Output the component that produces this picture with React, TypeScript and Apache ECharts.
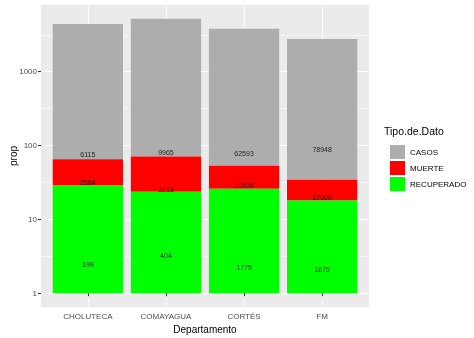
import React, { useEffect, useRef } from "react";
import * as echarts from "echarts";

const categories = ["CHOLUTECA", "COMAYAGUA", "CORTÉS", "FM"];
// prop values (percent) per tipo, stacked on a log10 scale (ggplot-style)
const recuperadoProp = [29.2, 23.7, 26.0, 18.1];
const muerteProp = [2.24, 3.0, 2.05, 1.9];
const casosProp = [67.5, 73.3, 71.6, 80.5];
// text labels (counts) and the prop value at which each label sits
const casosCount = [6115, 9965, 62593, 78948];
const muerteCount = [2564, 3213, 22606, 17900];
const recuperadoCount = [199, 404, 1775, 1875];
const casosLabelAt = [75, 80.4, 78, 87.5];
const muerteLabelAt = [31.3, 25.4, 28.5, 19.8];
const recuperadoLabelAt = [2.42, 3.23, 2.22, 2.07];
const yTickLabels = [1, 10, 100, 1000];
const yMinorBreaks = [3.16, 31.6, 316, 3162];

const FONT = "Liberation Sans, Arial, sans-serif";

export default function App() {
  const ref = useRef<HTMLDivElement>(null);
  useEffect(() => {
    if (!ref.current) return;
    const chart = echarts.init(ref.current, null, { renderer: "svg" });
    const lg = (v: number) => Math.log10(v);
    const xs = categories.map((_, i) => i + 1);
    // cumulative tops in log space (stacking of log10 values)
    const topRec = recuperadoProp.map((v) => lg(v));
    const topMue = muerteProp.map((v, i) => topRec[i] + lg(v));
    const topCas = casosProp.map((v, i) => topMue[i] + lg(v));
    const maxT = Math.max(...topCas);
    const yMin = -0.05 * maxT;
    const yMax = maxT * 1.05;
    const majors = yTickLabels.map(lg);
    const minors = yMinorBreaks.map(lg);

    const barSeries = (name: string, bottoms: number[], tops: number[], color: string) => ({
      type: "custom",
      name,
      itemStyle: { color },
      encode: { x: 0, y: [1, 2] },
      data: tops.map((t, i) => [xs[i], bottoms[i], t]),
      z: 2,
      renderItem: (_p: any, api: any) => {
        const x = api.value(0);
        const p0 = api.coord([x, api.value(1)]);
        const p1 = api.coord([x, api.value(2)]);
        const w = api.size([0.9, 0])[0];
        return {
          type: "rect",
          shape: { x: p0[0] - w / 2, y: p1[1], width: w, height: p0[1] - p1[1] },
          style: { fill: color },
        };
      },
    });
    const labelSeries = (at: number[], counts: number[]) => ({
      type: "scatter",
      name: "lbl",
      symbolSize: 1,
      itemStyle: { color: "transparent" },
      z: 6,
      data: at.map((v, i) => ({ value: [xs[i], lg(v)], txt: String(counts[i]) })),
      label: {
        show: true,
        position: "inside",
        formatter: (p: any) => p.data.txt,
        fontSize: 7,
        color: "#000",
        fontFamily: FONT,
      },
    });

    chart.setOption({
      animation: false,
      grid: {
        left: 41,
        top: 5,
        width: 328,
        height: 302,
        containLabel: false,
        outerBoundsMode: "none",
        show: true,
        backgroundColor: "#EBEBEB",
        borderWidth: 0,
      },
      xAxis: {
        type: "value",
        min: 0.4,
        max: 4.6,
        name: "Departamento",
        nameLocation: "middle",
        nameGap: 13,
        nameTextStyle: { fontSize: 10, color: "#000", fontFamily: FONT },
        axisLine: { show: false },
        axisTick: {
          show: true,
          customValues: xs,
          length: 3,
          lineStyle: { color: "#333", width: 1 },
        },
        axisLabel: {
          customValues: xs,
          formatter: (v: number) => categories[Math.round(v) - 1] ?? "",
          fontSize: 8,
          color: "#4D4D4D",
          margin: 5,
          fontFamily: FONT,
        },
        splitLine: { show: true, lineStyle: { color: "#fff", width: 1.1 } },
      },
      yAxis: [
        {
          type: "value",
          min: yMin,
          max: yMax,
          axisLine: { show: false },
          axisTick: {
            show: true,
            customValues: majors,
            length: 3,
            lineStyle: { color: "#333", width: 1 },
          },
          axisLabel: {
            customValues: majors,
            formatter: (v: number) => String(Math.round(Math.pow(10, v))),
            fontSize: 8,
            color: "#4D4D4D",
            margin: 4,
            fontFamily: FONT,
          },
          splitLine: { show: true, lineStyle: { color: "#fff", width: 1.1 } },
        },
        {
          type: "value",
          min: yMin,
          max: yMax,
          position: "left",
          axisLine: { show: false },
          axisTick: { show: false, customValues: minors },
          axisLabel: { show: false, customValues: minors },
          splitLine: { show: true, lineStyle: { color: "#fff", width: 0.55 } },
        },
      ],
      legend: {
        orient: "vertical",
        left: 385,
        top: 140,
        itemWidth: 15,
        itemHeight: 14,
        itemGap: 2,
        icon: "rect",
        data: ["CASOS", "MUERTE", "RECUPERADO"],
        textStyle: { fontSize: 8, color: "#000", fontFamily: FONT },
      },
      graphic: [
        {
          type: "text",
          left: 384,
          top: 125,
          style: {
            text: "Tipo.de.Dato",
            fontSize: 10.5,
            fill: "#000",
            fontFamily: FONT,
          },
        },
        {
          type: "text",
          x: 13,
          y: 156,
          rotation: Math.PI / 2,
          style: {
            text: "prop",
            fontSize: 10,
            fill: "#000",
            fontFamily: FONT,
            align: "center",
            verticalAlign: "middle",
          },
        },
      ],
      series: [
        barSeries("CASOS", topMue, topCas, "#ADADAD"),
        barSeries("MUERTE", topRec, topMue, "#FF0000"),
        barSeries("RECUPERADO", topRec.map(() => 0), topRec, "#00FF00"),
        labelSeries(casosLabelAt, casosCount),
        labelSeries(muerteLabelAt, muerteCount),
        labelSeries(recuperadoLabelAt, recuperadoCount),
      ],
    });
    return () => chart.dispose();
  }, []);
  return (
    <div
      ref={ref}
      style={{ position: "fixed", left: 0, top: 0, width: 474, height: 338 }}
    />
  );
}
